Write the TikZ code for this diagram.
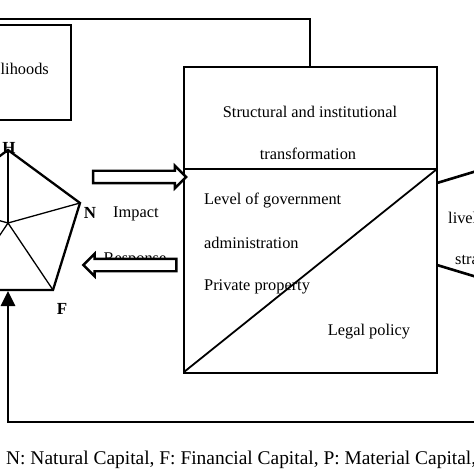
\documentclass[tikz,border=0pt]{standalone}
\usepackage{fontspec}
\setmainfont{Liberation Serif}
\usepackage{tikz}
\usetikzlibrary{shapes.arrows,arrows.meta}

\begin{document}
\begin{tikzpicture}[x=1bp,y=-1bp,
    frame/.style={line width=2.6bp},
    spoke/.style={line width=1.3bp},
    txt/.style={font=\fontsize{16.4}{19}\selectfont, inner sep=0pt},
    lbl/.style={font=\fontsize{17}{20}\selectfont\bfseries, inner sep=0pt},
    fatarrow/.style={single arrow, draw, fill=white, line width=2.4bp, minimum height=93bp,
        inner sep=5bp, outer sep=0pt, single arrow head extend=5bp}]
    \useasboundingbox (0,0) rectangle (474,474);
    \clip (0,0) rectangle (474,474);

    % Livelihoods box
    \draw[frame] (-60,25) rectangle (71,120);
    \node[txt, anchor=base east] (liv) at (49,75) {Livelihoods};

    % Structure box
    \draw[frame] (184,67) rectangle (437,373);
    \draw[line width=1.8bp] (184,169) -- (437,169);
    \draw[line width=1.8bp] (184,372) -- (437,169);
    \node[txt, anchor=base] (struct) at (310,118) {Structural and institutional};
    \node[txt, anchor=base] (trans) at (308,160) {transformation};
    \node[txt, anchor=base west] (gov) at (204,205) {Level of government};
    \node[txt, anchor=base west] (adm) at (204,248) {administration};
    \node[txt, anchor=base west] (prop) at (204,290) {Private property};
    \node[txt, anchor=base] (legal) at (369,335) {Legal policy};

    % Strategies shape
    \draw[frame] (437,183) -- (490,167);
    \draw[frame] (437,265) -- (490,281);
    \node[txt, anchor=base west] (strat1) at (448,224) {livelihood};
    \node[txt, anchor=base west] (strat2) at (455,264) {strategies};

    % Feedback lines
    \draw[frame] (310,67) -- (310,19) -- (-10,19);
    \draw[frame, -{Triangle[length=15bp,width=14bp]}] (490,422) -- (8,422) -- (8,291);

    % Capital pentagon
    \coordinate (H) at (8,150);
    \coordinate (N) at (80,203);
    \coordinate (F) at (53,290);
    \coordinate (P) at (-37,290);
    \coordinate (S) at (-64,203);
    \coordinate (O) at (8,223);
    \draw[line width=2.3bp, line join=miter] (H) -- (N) -- (F) -- (P) -- (S) -- cycle;
    \foreach \v in {H,N,F,P,S}
        \draw[spoke] (O) -- (\v);
    \node[lbl] (Hlbl) at (9,148) {H};
    \node[lbl] (Nlbl) at (90,213) {N};
    \node[lbl] (Flbl) at (62,309) {F};

    % Impact and response
    \node[txt, anchor=base west] (impact) at (113,218) {Impact};
    \begin{scope}
        \clip (90,240) rectangle (180,257);
        \node[txt, anchor=base] (resp) at (135,263) {Response};
    \end{scope}
    \node[fatarrow] (impactarrow) at (136.5,177) {};
    \node[fatarrow, shape border rotate=180] (resparrow) at (133,265) {};

    % Caption
    \node[font=\fontsize{19.5}{22}\selectfont, inner sep=0pt, anchor=base west] (caption) at (6,464)
        {N: Natural Capital, F: Financial Capital, P: Material Capital, S: Social Capital, H: Human Capital};
\end{tikzpicture}
\end{document}
